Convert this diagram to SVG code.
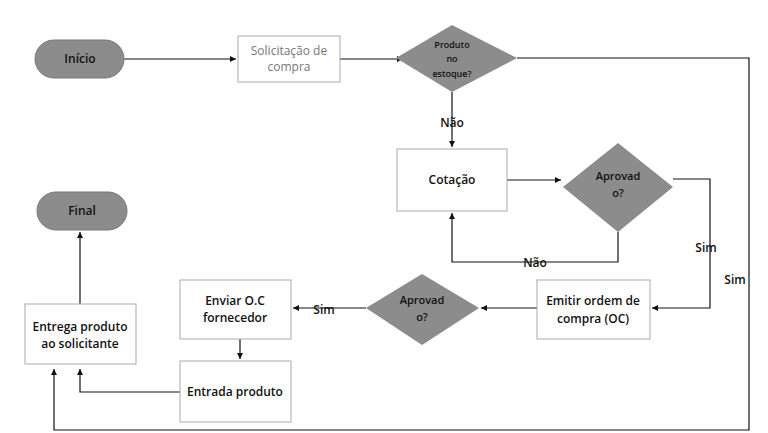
<svg xmlns="http://www.w3.org/2000/svg" width="768" height="433" viewBox="0 0 768 433">
<style>
text{font-family:"Open Sans","DejaVu Sans",sans-serif;font-size:12px;font-weight:600;fill:#111;text-anchor:middle}
.box{fill:#fff;stroke:#aaa;stroke-width:1}
.term{fill:#8c8c8c;stroke:#777;stroke-width:1}
.dia{fill:#8c8c8c}
.c{fill:none;stroke:#111;stroke-width:1.2}
</style>
<defs><marker id="a" markerWidth="6" markerHeight="6" refX="5" refY="3" orient="auto"><path d="M0,0.5L5,3L0,5.5z" fill="#111"/></marker></defs>
<rect width="768" height="433" fill="#fff"/>
<g id="connectors">
<path class="c" d="M124,59H236" marker-end="url(#a)"/>
<path class="c" d="M340,59H403" marker-end="url(#a)"/>
<path class="c" d="M517,58H749V430H54V369" marker-end="url(#a)"/>
<path class="c" d="M452,92V147" marker-end="url(#a)"/>
<path class="c" d="M507,180H561" marker-end="url(#a)"/>
<path class="c" d="M673,179H710V308H652" marker-end="url(#a)"/>
<path class="c" d="M618,232V262H452V213" marker-end="url(#a)"/>
<path class="c" d="M537,308H481" marker-end="url(#a)" stroke="#999"/>
<path class="c" d="M366,308H293" marker-end="url(#a)"/>
<path class="c" d="M240,339V359" marker-end="url(#a)"/>
<path class="c" d="M180,392H80V369" marker-end="url(#a)"/>
<path class="c" d="M80,304V232" marker-end="url(#a)"/>
<text x="452" y="127">Não</text>
<text x="535" y="267">Não</text>
<text x="706" y="252">Sim</text>
<text x="735" y="284">Sim</text>
<text x="324" y="314">Sim</text>
</g>
<g id="inicio"><rect class="term" x="35" y="40" width="89" height="38" rx="19"/><text x="80" y="63">Início</text></g>
<g id="solicitacao"><rect class="box" x="238" y="36" width="102" height="46"/><text x="289" y="55" style="font-weight:400;fill:#777">Solicitação de</text><text x="289" y="71" style="font-weight:400;fill:#777">compra</text></g>
<g id="estoque"><path class="dia" d="M452,25L517,58L452,92L396,58z"/><text x="452" y="48" style="font-size:9px">Produto</text><text x="452" y="62" style="font-size:9px">no</text><text x="452" y="77" style="font-size:9px">estoque?</text></g>
<g id="cotacao"><rect class="box" x="397" y="149" width="110" height="62"/><text x="452" y="184">Cotação</text></g>
<g id="aprovado1"><path class="dia" d="M618,143L673,187L618,232L563,187z"/><text x="618" y="180" style="font-size:11px">Aprovad</text><text x="618" y="197" style="font-size:11px">o?</text></g>
<g id="emitir"><rect class="box" x="537" y="280" width="113" height="59"/><text x="593" y="305">Emitir ordem de</text><text x="593" y="323">compra (OC)</text></g>
<g id="aprovado2"><path class="dia" d="M422,274L479,308L422,345L366,308z"/><text x="422" y="304" style="font-size:11px">Aprovad</text><text x="422" y="321" style="font-size:11px">o?</text></g>
<g id="enviar"><rect class="box" x="180" y="280" width="111" height="59"/><text x="235" y="305">Enviar O.C</text><text x="235" y="322">fornecedor</text></g>
<g id="entrada"><rect class="box" x="180" y="361" width="111" height="61"/><text x="235" y="396">Entrada produto</text></g>
<g id="entrega"><rect class="box" x="25" y="304" width="111" height="60"/><text x="80" y="331">Entrega produto</text><text x="80" y="348">ao solicitante</text></g>
<g id="final"><rect class="term" x="37" y="192" width="90" height="38" rx="19"/><text x="82" y="215">Final</text></g>
</svg>
